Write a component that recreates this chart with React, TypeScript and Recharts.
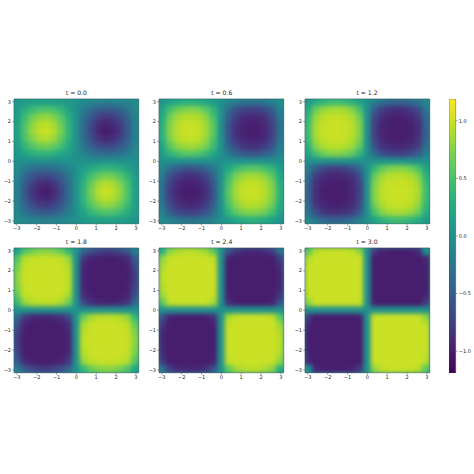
import React from "react";
import { ScatterChart, Scatter, XAxis, YAxis, CartesianGrid, ReferenceArea } from "recharts";

const titles = ["t = 0.0", "t = 0.6", "t = 1.2", "t = 1.8", "t = 2.4", "t = 3.0"];
const axisTicks = [-3, -2, -1, 0, 1, 2, 3];
const colorbarTicks = [-1, -0.5, 0, 0.5, 1];
const xCenters = [-2.955, -2.585, -2.216, -1.847, -1.478, -1.108, -0.739, -0.37, 0, 0.37, 0.739, 1.108, 1.478, 1.847, 2.216, 2.585, 2.955];
const yCenters = [2.955, 2.585, 2.216, 1.847, 1.478, 1.108, 0.739, 0.37, 0, -0.37, -0.739, -1.108, -1.478, -1.847, -2.216, -2.585, -2.955];
const viridisStops = ["#440154", "#482475", "#414487", "#355f8d", "#2a788e", "#21918c", "#22a884", "#44bf70", "#7ad151", "#bddf26", "#fde725"];

const gridT00 = [
[3,11,14,17,18,16,12,6,0,-6,-12,-16,-18,-17,-14,-11,-3],
[11,29,42,51,53,49,36,19,0,-19,-36,-49,-53,-51,-42,-29,-11],
[14,42,65,77,81,72,54,30,0,-30,-54,-72,-81,-77,-65,-42,-14],
[17,51,77,92,96,87,65,35,0,-35,-65,-87,-96,-92,-77,-51,-17],
[18,53,81,96,101,91,68,36,0,-36,-68,-91,-101,-96,-81,-53,-18],
[16,49,72,87,91,82,60,32,0,-32,-60,-82,-91,-87,-72,-49,-16],
[12,36,54,65,68,60,46,24,0,-24,-46,-60,-68,-65,-54,-36,-12],
[6,19,30,35,36,32,24,13,0,-13,-24,-32,-36,-35,-30,-19,-6],
[0,0,0,0,0,0,0,0,0,0,0,0,0,0,0,0,0],
[-6,-19,-30,-35,-36,-32,-24,-13,0,13,24,32,36,35,30,19,6],
[-12,-36,-54,-65,-68,-60,-46,-24,0,24,46,60,68,65,54,36,12],
[-16,-49,-72,-87,-91,-82,-60,-32,0,32,60,82,91,87,72,49,16],
[-18,-53,-81,-96,-101,-91,-68,-36,0,36,68,91,101,96,81,53,18],
[-17,-51,-77,-92,-96,-87,-65,-35,0,35,65,87,96,92,77,51,17],
[-14,-42,-65,-77,-81,-72,-54,-30,0,30,54,72,81,77,65,42,14],
[-11,-29,-42,-51,-53,-49,-36,-19,0,19,36,49,53,51,42,29,11],
[-3,-11,-14,-17,-18,-16,-12,-6,0,6,12,16,18,17,14,11,3],
];
const gridT06 = [
[5,18,26,31,33,29,22,12,0,-12,-22,-29,-33,-31,-26,-18,-5],
[18,47,65,73,75,71,57,35,0,-35,-57,-71,-75,-73,-65,-47,-18],
[26,65,84,91,93,89,76,48,0,-48,-76,-89,-93,-91,-84,-65,-26],
[31,73,91,98,99,96,84,56,0,-56,-84,-96,-99,-98,-91,-73,-31],
[33,75,93,99,100,97,86,57,0,-57,-86,-97,-100,-99,-93,-75,-33],
[29,71,89,96,97,93,81,52,0,-52,-81,-93,-97,-96,-89,-71,-29],
[22,57,76,84,86,81,68,41,0,-41,-68,-81,-86,-84,-76,-57,-22],
[12,35,48,56,57,52,41,24,0,-24,-41,-52,-57,-56,-48,-35,-12],
[0,0,0,0,0,0,0,0,0,0,0,0,0,0,0,0,0],
[-12,-35,-48,-56,-57,-52,-41,-24,0,24,41,52,57,56,48,35,12],
[-22,-57,-76,-84,-86,-81,-68,-41,0,41,68,81,86,84,76,57,22],
[-29,-71,-89,-96,-97,-93,-81,-52,0,52,81,93,97,96,89,71,29],
[-33,-75,-93,-99,-100,-97,-86,-57,0,57,86,97,100,99,93,75,33],
[-31,-73,-91,-98,-99,-96,-84,-56,0,56,84,96,99,98,91,73,31],
[-26,-65,-84,-91,-93,-89,-76,-48,0,48,76,89,93,91,84,65,26],
[-18,-47,-65,-73,-75,-71,-57,-35,0,35,57,71,75,73,65,47,18],
[-5,-18,-26,-31,-33,-29,-22,-12,0,12,22,29,33,31,26,18,5],
];
const gridT12 = [
[9,29,38,45,47,42,33,20,0,-20,-33,-42,-47,-45,-38,-29,-9],
[29,65,80,87,88,85,75,50,0,-50,-75,-85,-88,-87,-80,-65,-29],
[38,80,93,97,98,96,88,66,0,-66,-88,-96,-98,-97,-93,-80,-38],
[45,87,97,100,100,99,93,74,0,-74,-93,-99,-100,-100,-97,-87,-45],
[47,88,98,100,100,99,94,75,0,-75,-94,-99,-100,-100,-98,-88,-47],
[42,85,96,99,99,98,91,71,0,-71,-91,-98,-99,-99,-96,-85,-42],
[33,75,88,93,94,91,83,60,0,-60,-83,-91,-94,-93,-88,-75,-33],
[20,50,66,74,75,71,60,37,0,-37,-60,-71,-75,-74,-66,-50,-20],
[0,0,0,0,0,0,0,0,0,0,0,0,0,0,0,0,0],
[-20,-50,-66,-74,-75,-71,-60,-37,0,37,60,71,75,74,66,50,20],
[-33,-75,-88,-93,-94,-91,-83,-60,0,60,83,91,94,93,88,75,33],
[-42,-85,-96,-99,-99,-98,-91,-71,0,71,91,98,99,99,96,85,42],
[-47,-88,-98,-100,-100,-99,-94,-75,0,75,94,99,100,100,98,88,47],
[-45,-87,-97,-100,-100,-99,-93,-74,0,74,93,99,100,100,97,87,45],
[-38,-80,-93,-97,-98,-96,-88,-66,0,66,88,96,98,97,93,80,38],
[-29,-65,-80,-87,-88,-85,-75,-50,0,50,75,85,88,87,80,65,29],
[-9,-29,-38,-45,-47,-42,-33,-20,0,20,33,42,47,45,38,29,9],
];
const gridT18 = [
[20,55,69,77,79,74,63,40,0,-40,-63,-74,-79,-77,-69,-55,-20],
[55,91,97,99,99,98,96,81,0,-81,-96,-98,-99,-99,-97,-91,-55],
[69,97,100,100,100,100,99,92,0,-92,-99,-100,-100,-100,-100,-97,-69],
[77,99,100,100,100,100,100,95,0,-95,-100,-100,-100,-100,-100,-99,-77],
[79,99,100,100,100,100,100,96,0,-96,-100,-100,-100,-100,-100,-99,-79],
[74,98,100,100,100,100,100,94,0,-94,-100,-100,-100,-100,-100,-98,-74],
[63,96,99,100,100,100,98,87,0,-87,-98,-100,-100,-100,-99,-96,-63],
[40,81,92,95,96,94,87,66,0,-66,-87,-94,-96,-95,-92,-81,-40],
[0,0,0,0,0,0,0,0,0,0,0,0,0,0,0,0,0],
[-40,-81,-92,-95,-96,-94,-87,-66,0,66,87,94,96,95,92,81,40],
[-63,-96,-99,-100,-100,-100,-98,-87,0,87,98,100,100,100,99,96,63],
[-74,-98,-100,-100,-100,-100,-100,-94,0,94,100,100,100,100,100,98,74],
[-79,-99,-100,-100,-100,-100,-100,-96,0,96,100,100,100,100,100,99,79],
[-77,-99,-100,-100,-100,-100,-100,-95,0,95,100,100,100,100,100,99,77],
[-69,-97,-100,-100,-100,-100,-99,-92,0,92,99,100,100,100,100,97,69],
[-55,-91,-97,-99,-99,-98,-96,-81,0,81,96,98,99,99,97,91,55],
[-20,-55,-69,-77,-79,-74,-63,-40,0,40,63,74,79,77,69,55,20],
];
const gridT24 = [
[32,78,89,94,95,92,84,60,0,-60,-84,-92,-95,-94,-89,-78,-32],
[78,99,100,100,100,100,100,96,0,-96,-100,-100,-100,-100,-100,-99,-78],
[89,100,100,100,100,100,100,99,0,-99,-100,-100,-100,-100,-100,-100,-89],
[94,100,100,100,100,100,100,100,0,-100,-100,-100,-100,-100,-100,-100,-94],
[95,100,100,100,100,100,100,100,0,-100,-100,-100,-100,-100,-100,-100,-95],
[92,100,100,100,100,100,100,100,0,-100,-100,-100,-100,-100,-100,-100,-92],
[84,100,100,100,100,100,100,98,0,-98,-100,-100,-100,-100,-100,-100,-84],
[60,96,99,100,100,100,98,87,0,-87,-98,-100,-100,-100,-99,-96,-60],
[0,0,0,0,0,0,0,0,0,0,0,0,0,0,0,0,0],
[-60,-96,-99,-100,-100,-100,-98,-87,0,87,98,100,100,100,99,96,60],
[-84,-100,-100,-100,-100,-100,-100,-98,0,98,100,100,100,100,100,100,84],
[-92,-100,-100,-100,-100,-100,-100,-100,0,100,100,100,100,100,100,100,92],
[-95,-100,-100,-100,-100,-100,-100,-100,0,100,100,100,100,100,100,100,95],
[-94,-100,-100,-100,-100,-100,-100,-100,0,100,100,100,100,100,100,100,94],
[-89,-100,-100,-100,-100,-100,-100,-99,0,99,100,100,100,100,100,100,89],
[-78,-99,-100,-100,-100,-100,-100,-96,0,96,100,100,100,100,100,99,78],
[-32,-78,-89,-94,-95,-92,-84,-60,0,60,84,92,95,94,89,78,32],
];
const gridT30 = [
[60,93,98,99,100,99,96,80,0,-80,-96,-99,-100,-99,-98,-93,0],
[93,100,100,100,100,100,100,100,0,-100,-100,-100,-100,-100,-100,-100,-93],
[98,100,100,100,100,100,100,100,0,-100,-100,-100,-100,-100,-100,-100,-98],
[99,100,100,100,100,100,100,100,0,-100,-100,-100,-100,-100,-100,-100,-99],
[100,100,100,100,100,100,100,100,0,-100,-100,-100,-100,-100,-100,-100,-100],
[99,100,100,100,100,100,100,100,0,-100,-100,-100,-100,-100,-100,-100,-99],
[96,100,100,100,100,100,100,100,0,-100,-100,-100,-100,-100,-100,-100,-96],
[80,100,100,100,100,100,100,97,0,-97,-100,-100,-100,-100,-100,-100,-80],
[0,0,0,0,0,0,0,0,0,0,0,0,0,0,0,0,0],
[-80,-100,-100,-100,-100,-100,-100,-97,0,97,100,100,100,100,100,100,80],
[-96,-100,-100,-100,-100,-100,-100,-100,0,100,100,100,100,100,100,100,96],
[-99,-100,-100,-100,-100,-100,-100,-100,0,100,100,100,100,100,100,100,99],
[-100,-100,-100,-100,-100,-100,-100,-100,0,100,100,100,100,100,100,100,100],
[-99,-100,-100,-100,-100,-100,-100,-100,0,100,100,100,100,100,100,100,99],
[-98,-100,-100,-100,-100,-100,-100,-100,0,100,100,100,100,100,100,100,98],
[-93,-100,-100,-100,-100,-100,-100,-100,0,100,100,100,100,100,100,100,93],
[0,-93,-98,-99,-100,-99,-96,-80,0,80,96,99,100,99,98,93,60],
];
const grids = [gridT00, gridT06, gridT12, gridT18, gridT24, gridT30];

const V_MIN = -1.19;
const V_MAX = 1.19;
const PLOT = 124.7;
const M_LEFT = 14;
const M_TOP = 10;
const CELL = PLOT / xCenters.length;
const FONT = "'DejaVu Sans', sans-serif";
const TEXT = "#262626";

const hexToRgb = (h: string) => [1, 3, 5].map((i) => parseInt(h.slice(i, i + 2), 16));
const viridis = (f: number) => {
  const t = Math.max(0, Math.min(1, f)) * (viridisStops.length - 1);
  const i = Math.min(Math.floor(t), viridisStops.length - 2);
  const a = hexToRgb(viridisStops[i]);
  const b = hexToRgb(viridisStops[i + 1]);
  const k = t - i;
  return `rgb(${a.map((c, n) => Math.round(c + (b[n] - c) * k)).join(",")})`;
};
const colorOf = (v: number) => viridis((v - V_MIN) / (V_MAX - V_MIN));
const fmt = (v: number) => (v < 0 ? "\u2212" + Math.abs(v) : String(v));
const fmtBar = (v: number) => (v < 0 ? "\u2212" + Math.abs(v).toFixed(1) : v.toFixed(1));

const HeatCell = (p: any) => (
  <rect x={p.cx - CELL / 2 - 0.4} y={p.cy - CELL / 2 - 0.4} width={CELL + 0.8} height={CELL + 0.8} fill={colorOf(p.payload.v)} />
);

const tickStyle = { fontSize: 5, fill: TEXT, fontFamily: FONT };

function Panel({ index, left, top }: { index: number; left: number; top: number }) {
  const data = grids[index].flatMap((row, r) =>
    row.map((v, c) => ({ x: xCenters[c], y: yCenters[r], v: v / 100 }))
  );
  return (
    <div style={{ position: "absolute", left: left - M_LEFT, top: top - M_TOP, width: 145, height: 151 }} className="heat">
      <div style={{ position: "absolute", left: M_LEFT, width: PLOT, top: 0, height: M_TOP, textAlign: "center", fontSize: 6.1, lineHeight: "7px", color: TEXT, fontFamily: FONT }}>
        {titles[index]}
      </div>
      <ScatterChart width={145} height={151} margin={{ top: M_TOP, right: 145 - M_LEFT - PLOT, bottom: 151 - M_TOP - PLOT - 16, left: 0 }}>
        <CartesianGrid horizontal={false} vertical={false} fill={colorOf(0)} />
        <XAxis type="number" dataKey="x" domain={[-3.14, 3.14]} ticks={axisTicks} tickFormatter={fmt} height={16} tick={tickStyle} tickSize={2} axisLine={false} tickLine={{ stroke: TEXT, strokeWidth: 0.4 }} interval={0} tickMargin={1} />
        <YAxis type="number" dataKey="y" domain={[-3.14, 3.14]} ticks={axisTicks} tickFormatter={fmt} width={M_LEFT} tick={tickStyle} tickSize={2} axisLine={false} tickLine={{ stroke: TEXT, strokeWidth: 0.4 }} interval={0} tickMargin={1} />
        <Scatter data={data} isAnimationActive={false} shape={HeatCell} />
        <ReferenceArea x1={-3.14} x2={3.14} y1={-3.14} y2={3.14} fill="none" stroke="#1d3b3f" strokeWidth={0.6} />
      </ScatterChart>
    </div>
  );
}

const lefts = [14, 159.4, 304.7];
const tops = [99, 248.3];
const barSpan = [{ x: 0.5, y: 0 }];

export default function App() {
  return (
    <div style={{ position: "absolute", left: 0, top: 0, width: 474, height: 474, background: "#fff", overflow: "hidden" }}>
      <style>{`.heat .recharts-scatter{filter:url(#soft);clip-path:url(#plotClip)}`}</style>
      <svg width={0} height={0} style={{ position: "absolute" }}>
        <defs>
          <filter id="soft" x="-5%" y="-5%" width="110%" height="110%" colorInterpolationFilters="sRGB">
            <feGaussianBlur stdDeviation={2.2} />
          </filter>
          <clipPath id="plotClip">
            <rect x={M_LEFT} y={M_TOP} width={PLOT} height={PLOT} />
          </clipPath>
          <linearGradient id="viridisBar" x1="0" y1="1" x2="0" y2="0">
            {viridisStops.map((c, i) => (
              <stop key={c} offset={i / (viridisStops.length - 1)} stopColor={c} />
            ))}
          </linearGradient>
        </defs>
      </svg>
      {titles.map((_, i) => (
        <Panel key={i} index={i} left={lefts[i % 3]} top={tops[Math.floor(i / 3)]} />
      ))}
      <div style={{ position: "absolute", left: 449, top: 99 }}>
        <ScatterChart width={25} height={274} margin={{ top: 0, right: 0, bottom: 0, left: 0 }}>
          <XAxis type="number" dataKey="x" domain={[0, 1]} hide />
          <YAxis type="number" dataKey="y" orientation="right" domain={[V_MIN, V_MAX]} ticks={colorbarTicks} tickFormatter={fmtBar} width={18.3} tick={{ ...tickStyle, textAnchor: "start" }} tickSize={2} axisLine={false} tickLine={{ stroke: TEXT, strokeWidth: 0.4 }} interval={0} tickMargin={1} />
          <Scatter data={barSpan} isAnimationActive={false} shape={() => <g />} />
          <ReferenceArea x1={0} x2={1} y1={V_MIN} y2={V_MAX} fill="url(#viridisBar)" fillOpacity={1} stroke="#333" strokeWidth={0.4} />
        </ScatterChart>
      </div>
    </div>
  );
}
